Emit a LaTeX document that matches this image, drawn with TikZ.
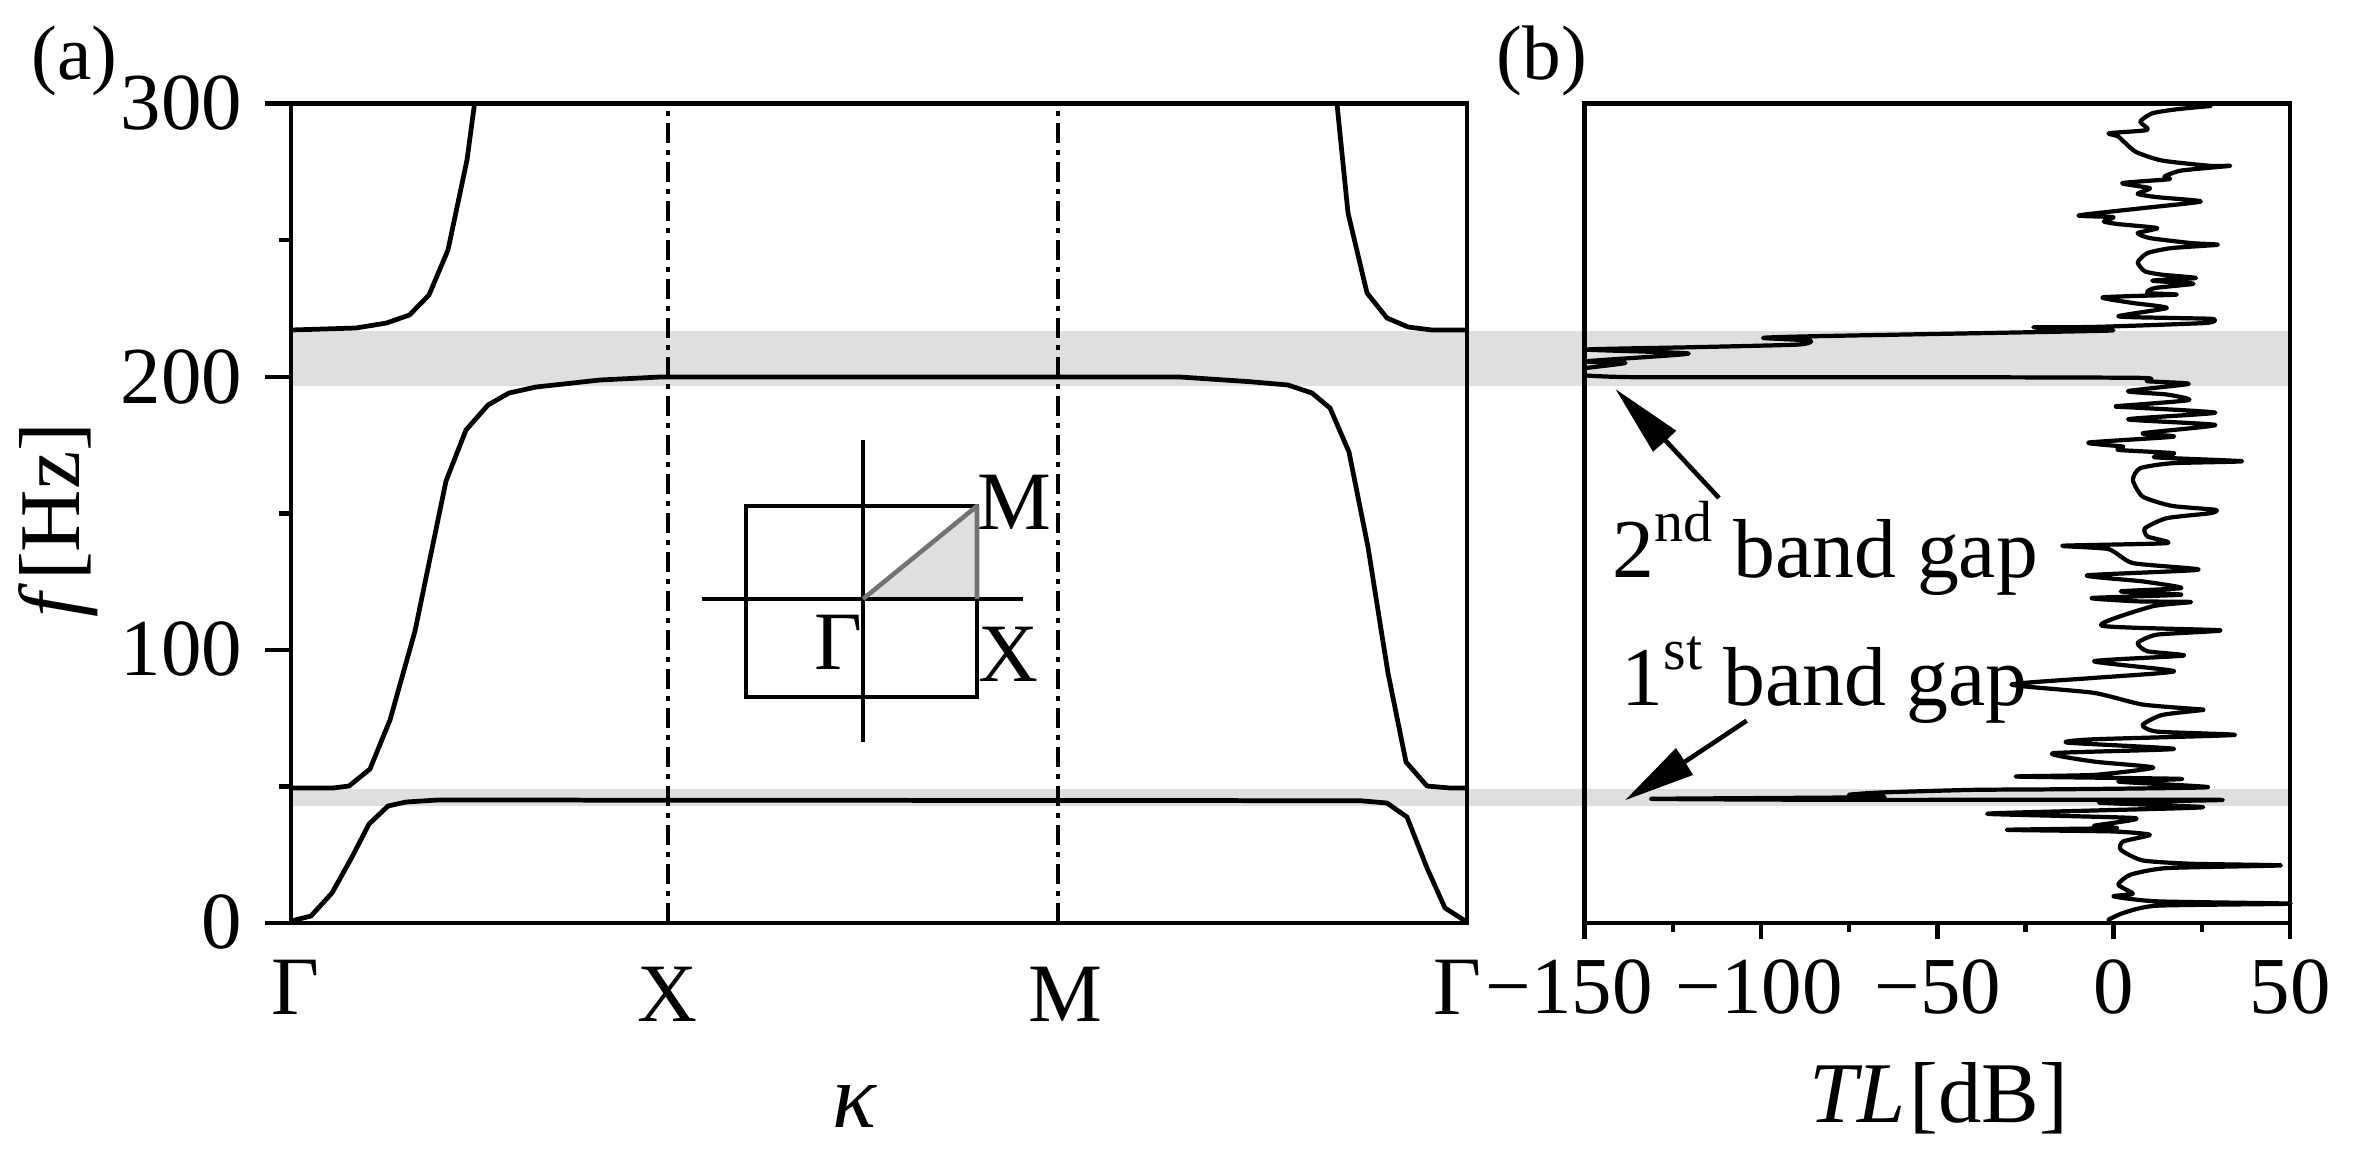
\documentclass[tikz,border=0pt]{standalone}
\usepackage{fontspec}
\setmainfont{Liberation Serif}
\definecolor{bandgray}{HTML}{DFDFDF}
\tikzset{
  frameline/.style={line width=1.4pt,black},
  tickline/.style={line width=1.2pt,black},
  curveline/.style={line width=1.35pt,black,line join=round},
  tlline/.style={line width=1.2pt,black,line join=round,line cap=round},
  symline/.style={line width=1.4pt,black,dash pattern=on 0.2cm off 0.07cm on 0.05cm off 0.07cm},
  ticklabel/.style={inner sep=0,anchor=base,font=\fontsize{23pt}{23pt}\selectfont},
  bigtext/.style={inner sep=0,anchor=base,font=\fontsize{23.6pt}{24pt}\selectfont},
  panel/.style={inner sep=0,anchor=base west,font=\fontsize{22pt}{23pt}\selectfont},
  ann/.style={inner sep=0,anchor=base west,font=\fontsize{23.8pt}{24pt}\selectfont},
  arrowline/.style={line width=1.3pt,black},
  arrowfill/.style={fill=black,draw=none}
}
\newcommand{\ord}[2]{#1\raisebox{35\dimexpr 0.2845pt\relax}{\fontsize{16.5pt}{17pt}\selectfont #2}}
\begin{document}
\begin{tikzpicture}[x=0.01cm,y=-0.01cm]
\useasboundingbox (0,0) rectangle (2357,1172);
% bands
\fill[bandgray] (291,331) rectangle (2290,386);
\fill[bandgray] (291,789) rectangle (2290,806);
% panel a curves
\draw[curveline] (291,921)--(311,916)--(332,893)--(352,857)--(369,824)--(388,806)--(406,802)--(438,800)--(1360,800.7)--(1387,803)--(1407,817)--(1427,868)--(1445,908)--(1467,922);
\draw[curveline] (291,788)--(333,788)--(349,786)--(370,769)--(390,720)--(415,631)--(446,481)--(466,430)--(488,405)--(509,393)--(536,387)--(600,380)--(660,377)--(1180,377)--(1250,381.7)--(1288,385)--(1312,393)--(1330,408)--(1349,452)--(1368,547)--(1380,623)--(1388,673)--(1406,762)--(1427,786)--(1450,788)--(1467,788);
\draw[curveline] (474.5,104)--(467,160)--(448,250)--(429,295)--(409.5,315)--(386.5,323)--(356,328)--(291,330);
\draw[curveline] (1337,104)--(1348,213)--(1367,293)--(1387,318)--(1408,327)--(1432,330)--(1467,330);
% symmetry lines
\draw[symline] (668,923)--(668,104);
\draw[symline] (1058,923)--(1058,104);
% inset
\fill[bandgray] (863,599)--(977,506)--(977,599)--cycle;
\draw[frameline] (746,506) rectangle (977,697);
\draw[frameline] (863,440)--(863,742);
\draw[frameline] (702,599)--(1023,599);
\draw[line width=1.3pt,black!55,line join=round] (863,599)--(977,506)--(977,599);
\node[bigtext] (insM) at (1014,529) {M};
\node[bigtext] (insX) at (1008,681) {X};
\node[bigtext] (insG) at (838,669) {Γ};
% TL curve
\begin{scope}[shift={(1560,80)},x=0.0048468cm,y=-0.0033333cm]
\draw[tlline] plot[smooth,tension=0.35] coordinates {(1340,78)(1270,88)(1220,100)(1195,125)(1210,150)(1130,160)(1150,170)(1185,215)(1240,242)(1340,258)(1380,258)(1280,272)(1245,290)(1255,298)(1158,310)(1215,325)(1190,342)(1230,352)(1320,365)(1200,385)(1068,407)(1140,412)(1120,425)(1150,433)(1230,445)(1190,460)(1215,475)(1300,490)(1355,495)(1260,505)(1210,520)(1190,548)(1205,575)(1240,585)(1310,595)(1220,603)(1305,612)(1225,625)(1210,640)(1270,645)(1118,653)(1180,670)(1250,685)(1150,710)(1260,715)(1345,718)(1330,730)(1100,742)(975,743)(1140,752)(1000,757)(520,770)(418,775)(515,783)(490,795)(270,803)(55,810)(265,822)(55,845)(135,850)(55,865)};
\draw[tlline] plot[smooth,tension=0.35] coordinates {(55,888)(160,893)(720,893)(1195,895)(1210,905)(1295,913)(1170,935)(1250,945)(1295,962)(1145,980)};
\end{scope}
\begin{scope}[shift={(1560,400)},x=0.0048468cm,y=-0.0033333cm]
\draw[tlline] plot[smooth,tension=0.35] coordinates {(1145,20)(1350,38)(1170,58)(1350,75)(1200,100)(1265,110)(1088,128)(1160,140)(1150,150)(1265,160)(1225,172)(1405,184)(1260,190)(1195,205)(1180,240)(1200,290)(1260,318)(1350,330)(1340,340)(1250,355)(1205,385)(1210,410)(1250,430)(1035,438)(1130,448)(1180,490)(1315,510)(1085,527)(1200,545)(1280,565)(1155,575)(1280,585)(1095,595)(1190,605)(1300,607)(1220,620)(1115,678)(1360,692)(1230,705)(1190,730)(1210,755)(1285,768)(1100,785)(1265,815)(1100,835)(930,855)(1100,880)(1200,915)(1325,930)};
\end{scope}
\begin{scope}[shift={(1560,700)},x=0.0048468cm,y=-0.0033333cm]
\draw[tlline] plot[smooth,tension=0.35] coordinates {(1325,30)(1240,45)(1200,75)(1230,95)(1390,105)(1100,118)(1045,128)(1265,147)(1015,160)(1100,185)(1222,203)(1100,225)(940,230)(1280,237)(1150,245)(1335,262)(1050,268)(850,270)(660,278)(595,285)(660,292)(188,297)(600,300)(1360,300)(1110,308)(1325,322)(1100,332)(880,342)(1185,355)(1100,378)(1145,385)(920,390)(1140,395)(1215,405)(1160,425)(1155,450)(1200,482)(1300,492)(1485,497)(1250,505)(1175,525)(1150,555)(1180,582)(1140,590)(1230,605)(1505,612)(1230,618)(1160,640)(1130,660)};
\end{scope}
% frames
\draw[frameline] (291,103.5) rectangle (1467,923);
\draw[frameline] (1584.5,103.5) rectangle (2290,923);
% y ticks a
\draw[frameline] (265,103.5)--(291,103.5);
\draw[frameline] (265,377)--(291,377);
\draw[frameline] (265,650)--(291,650);
\draw[frameline] (265,923)--(291,923);
\draw[frameline] (278.5,240)--(291,240);
\draw[frameline] (278.5,513.5)--(291,513.5);
\draw[frameline] (278.5,786.7)--(291,786.7);
% x ticks b
\foreach \xx in {1584.5,1761,1937.5,2113.5,2290} {\draw[tickline] (\xx,923)--(\xx,939);}
\foreach \xx in {1673,1849,2025.5,2202} {\draw[tickline] (\xx,923)--(\xx,932);}
% tick labels a
\node[ticklabel,anchor=base east] (y300) at (243,129) {300};
\node[ticklabel,anchor=base east] (y200) at (243,403) {200};
\node[ticklabel,anchor=base east] (y100) at (243,675) {100};
\node[ticklabel,anchor=base east] (y0) at (243,948) {0};
\node[bigtext] (xG) at (295.6,1014) {Γ};
\node[bigtext] (xX) at (667.6,1021) {X};
\node[bigtext] (xM) at (1065,1021) {M};
\node[bigtext] (xG2) at (1457,1014) {Γ};
% tick labels b
\node[ticklabel] (t150) at (1569,1013) {−150};
\node[ticklabel] (t100) at (1759,1013) {−100};
\node[ticklabel] (t50) at (1938,1013) {−50};
\node[ticklabel] (t0) at (2114,1013) {0};
\node[ticklabel] (tp50) at (2290,1013) {50};
% axis labels
\node[bigtext,font=\fontsize{26pt}{26pt}\selectfont] (kappa) at (854,1127) {\itshape κ};
\node[bigtext,anchor=base west,font=\fontsize{24.6pt}{25pt}\selectfont] (tl) at (1809,1122.7) {\itshape TL\upshape\kern1pt[dB]};
\node[bigtext,anchor=base west,rotate=90,font=\fontsize{24.6pt}{25pt}\selectfont] (fl) at (80,618) {\itshape f\upshape\kern3.5pt[Hz]};
% panel labels
\node[panel] (pa) at (31,79) {(a)};
\node[panel] (pb) at (1496,79) {(b)};
% annotations
\node[ann] (gap2) at (1612,577) {\ord{2}{nd} band gap};
\node[ann] (gap1) at (1621,705) {\ord{1}{st} band gap};
% arrows
\coordinate (a1tip) at (1615.7,389.3);
\coordinate (a1w1) at (1676.3,430.7);
\coordinate (a1n) at (1665.7,440.7);
\coordinate (a1w2) at (1653,451.7);
\coordinate (a1tail) at (1719,498);
\draw[arrowline] (a1tail)--(a1n);
\fill[arrowfill] (a1tip)--(a1w1)--(a1n)--(a1w2)--cycle;
\coordinate (a2tip) at (1625.4,800);
\coordinate (a2w1) at (1676,748);
\coordinate (a2n) at (1685,761.7);
\coordinate (a2w2) at (1693,775);
\coordinate (a2tail) at (1746.6,720.7);
\draw[arrowline] (a2tail)--(a2n);
\fill[arrowfill] (a2tip)--(a2w1)--(a2n)--(a2w2)--cycle;
\end{tikzpicture}
\end{document}
